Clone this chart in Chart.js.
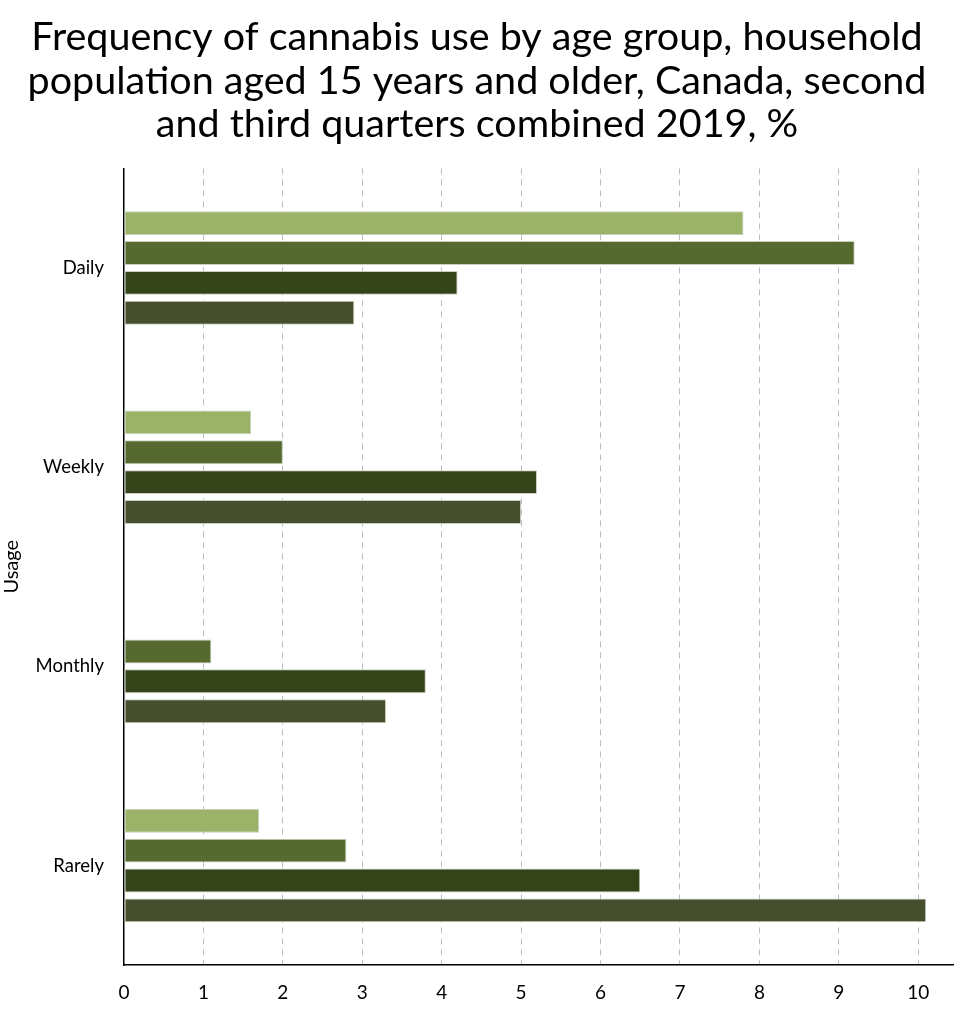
<!DOCTYPE html>
<html>
<head>
<meta charset="utf-8">
<script src="https://cdn.jsdelivr.net/npm/chart.js@4.4.0/dist/chart.umd.min.js"></script>
<style>
  html, body { margin: 0; padding: 0; background: #fff; overflow: hidden; }
  #chart { display: block; }
</style>
</head>
<body>
<canvas id="chart" width="954" height="1024"></canvas>
<script>
const categories = ["Daily", "Weekly", "Monthly", "Rarely"];

// four age groups, no legend shown in the original
const group1 = [7.8, 1.6, null, 1.7];
const group2 = [9.2, 2.0, 1.1, 2.8];
const group3 = [4.2, 5.2, 3.8, 6.5];
const group4 = [2.9, 5.0, 3.3, 10.1];

const xTicks = [0, 1, 2, 3, 4, 5, 6, 7, 8, 9, 10];

const colors = ["#9bb368", "#566a30", "#344418", "#454f2e"];
const seriesNames = ["Age group 1", "Age group 2", "Age group 3", "Age group 4"];

function makeDataset(label, values, color) {
  return {
    label: label,
    data: values,
    backgroundColor: color,
    borderColor: "#c9d0bf",
    borderWidth: 1,
    borderSkipped: false,
    barPercentage: 0.8,
    categoryPercentage: 0.6,
  };
}

Chart.defaults.font.family = "Lato, 'Open Sans', sans-serif";
Chart.defaults.color = "#111";

const ctx = document.getElementById("chart").getContext("2d");
const myChart = new Chart(ctx, {
  type: "bar",
  data: {
    labels: categories,
    datasets: [
      makeDataset(seriesNames[0], group1, colors[0]),
      makeDataset(seriesNames[1], group2, colors[1]),
      makeDataset(seriesNames[2], group3, colors[2]),
      makeDataset(seriesNames[3], group4, colors[3]),
    ],
  },
  options: {
    indexAxis: "y",
    responsive: false,
    animation: false,
    devicePixelRatio: 1,
    layout: {
      padding: { top: 0, right: 0, bottom: 4, left: 0 },
    },
    plugins: {
      legend: { display: false },
      tooltip: { enabled: true },
      title: {
        display: true,
        text: [
          "Frequency of cannabis use by age group, household",
          "population aged 15 years and older, Canada, second",
          "and third quarters combined 2019, %",
        ],
        color: "#000",
        font: { size: 39.5, weight: "normal", lineHeight: 1.1 },
        padding: { top: 16, bottom: 22 },
      },
    },
    scales: {
      x: {
        type: "linear",
        min: 0,
        max: 10.45,
        afterBuildTicks: (scale) => {
          scale.ticks = xTicks.map((v) => ({ value: v }));
        },
        ticks: {
          font: { size: 19 },
          color: "#000",
          padding: 16,
        },
        grid: {
          drawTicks: false,
          color: (c) => (c.tick && c.tick.value === 0 ? "rgba(0,0,0,0)" : "#bdbdbd"),
          lineWidth: 1,
        },
        border: {
          display: true,
          color: "#000",
          width: 1.5,
          dash: [6, 5],
        },
      },
      y: {
        afterFit: (scale) => {
          scale.width = 124;
        },
        title: {
          display: true,
          text: "Usage",
          color: "#000",
          font: { size: 20 },
          padding: { top: 0, bottom: 0 },
        },
        ticks: {
          font: { size: 18.5 },
          color: "#000",
          padding: 20,
        },
        grid: {
          display: false,
          drawTicks: false,
        },
        border: {
          display: true,
          color: "#000",
          width: 1.5,
        },
      },
    },
  },
});
</script>
</body>
</html>
